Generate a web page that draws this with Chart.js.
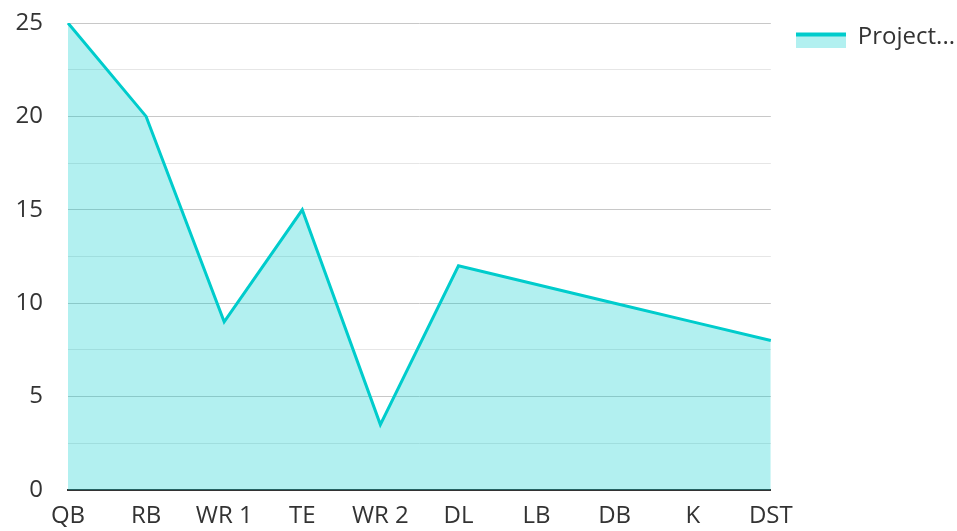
<!DOCTYPE html>
<html>
<head>
<meta charset="utf-8">
<script src="https://cdn.jsdelivr.net/npm/chart.js@4"></script>
<style>
  html, body { margin: 0; padding: 0; background: #fff; }
  #wrap { width: 957px; height: 531px; }
</style>
</head>
<body>
<div id="wrap"><canvas id="line-chart" width="957" height="531"></canvas></div>
<script>
// positions and projected points
var positions = ["QB", "RB", "WR 1", "TE", "WR 2", "DL", "LB", "DB", "K", "DST"];
var points = [25, 20, 9, 15, 3.5, 12, 11, 10, 9, 8];
var serieLabel = "Project...";

var lineColor = "#00cccc";
var fillColor = "rgba(0, 204, 204, 0.3)";

// legend swatch: thick line on top of the area colour (shifted down a bit)
var swatch = document.createElement("canvas");
swatch.width = 50;
swatch.height = 21;
var sctx = swatch.getContext("2d");
sctx.fillStyle = fillColor;
sctx.fillRect(0, 6, 50, 15);
sctx.fillStyle = lineColor;
sctx.fillRect(0, 6, 50, 4);

new Chart(document.getElementById("line-chart"), {
    type: 'line',
    data: {
        labels: positions,
        datasets: [{
            label: serieLabel,
            data: points,
            borderColor: lineColor,
            backgroundColor: fillColor,
            borderWidth: 3,
            fill: true,
            tension: 0,
            pointRadius: 0,
            pointStyle: swatch
        }]
    },
    options: {
        responsive: false,
        animation: false,
        layout: { padding: { left: 0, right: -8, top: 0, bottom: 0 } },
        plugins: {
            legend: {
                position: 'right',
                align: 'start',
                labels: {
                    usePointStyle: true,
                    pointStyleWidth: 50,
                    boxHeight: 15,
                    padding: 25,
                    color: "#333",
                    font: { family: "'Open Sans'", size: 24 }
                }
            },
            tooltip: { enabled: false }
        },
        scales: {
            x: {
                offset: false,
                grid: { display: false },
                border: { color: "#333", width: 2 },
                ticks: {
                    color: "#333",
                    padding: 4,
                    maxRotation: 0,
                    autoSkip: false,
                    font: { family: "'Open Sans'", size: 24 }
                },
                afterFit: function (scale) {
                    scale.height = 41;
                }
            },
            y: {
                min: 0,
                max: 25,
                border: { display: false },
                grid: {
                    drawTicks: false,
                    color: function (ctx) {
                        var v = ctx.tick.value;
                        return v % 5 === 0 ? "#c8c8c8" : "#e6e6e6";
                    }
                },
                ticks: {
                    stepSize: 2.5,
                    color: "#333",
                    padding: 25,
                    font: { family: "'Open Sans'", size: 24 },
                    callback: function (v) {
                        return v % 5 === 0 ? v : "";
                    }
                },
                afterFit: function (scale) {
                    scale.width = 68;
                    scale.paddingTop = 23;
                }
            }
        }
    }
});
</script>
</body>
</html>
